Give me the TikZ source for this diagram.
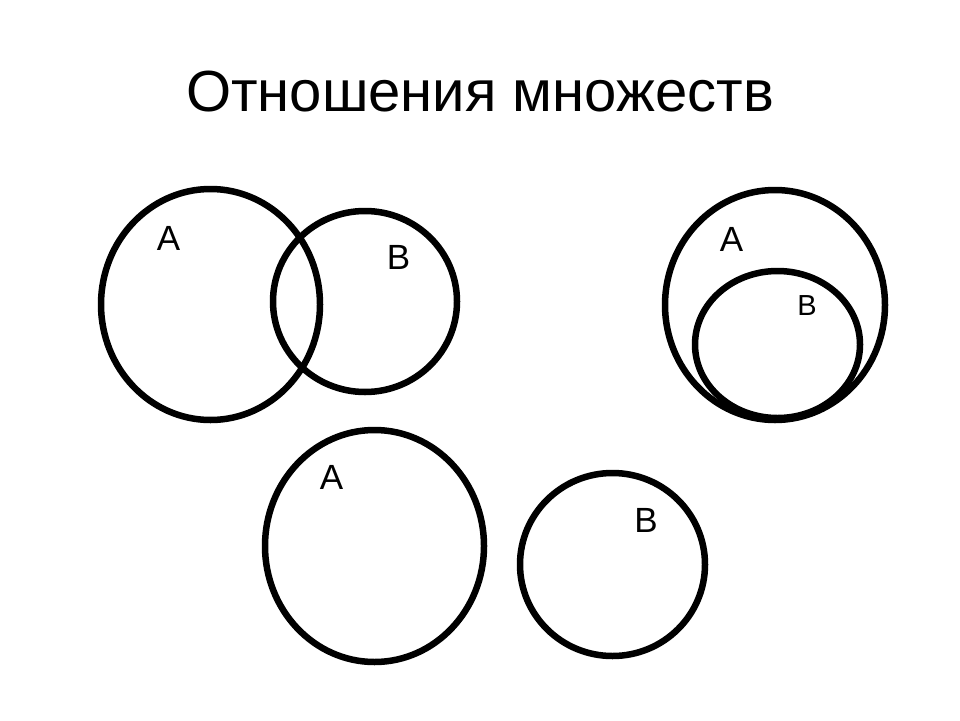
\documentclass[tikz,border=0pt]{standalone}
\usepackage{fontspec}
\setmainfont{Liberation Sans}
\usepackage{tikz}
\usetikzlibrary{shapes,positioning}
\tikzstyle{setring} = [ellipse, draw=black, line width=6.5pt, inner sep=0pt]
\tikzstyle{setlabel} = [font=\fontsize{35}{40}\selectfont, inner sep=0pt]

\begin{document}
\begin{tikzpicture}[x=1pt, y=-1pt]
    \useasboundingbox (0,0) rectangle (960,720);
    % Title
    \node[anchor=base, font=\fontsize{58}{64}\selectfont, inner sep=0pt] (title) at (480,111) {Отношения множеств};

    % Intersection
    \node[setring, minimum width=219pt, minimum height=231pt] (ringA1) at (210.5,304.5) {};
    \node[setring, minimum width=184pt, minimum height=181pt] (ringB1) at (365,301.5) {};
    \node[setlabel] (labA1) at (168.5,238) {A};
    \node[setlabel] (labB1) at (398.5,257.5) {B};

    % Subset
    \node[setring, minimum width=220pt, minimum height=230pt] (ringA2) at (775,305) {};
    \node[setring, minimum width=165pt, minimum height=147pt] (ringB2) at (777.5,344.5) {};
    \node[setlabel] (labA2) at (731.5,239.5) {A};
    \node[setlabel, font=\fontsize{29}{33}\selectfont] (labB2) at (807,306) {B};

    % Disjoint
    \node[setring, minimum width=219pt, minimum height=232pt] (ringA3) at (374.5,546) {};
    \node[setring, minimum width=185pt, minimum height=183pt] (ringB3) at (612.5,564.5) {};
    \node[setlabel] (labA3) at (331.5,477.5) {A};
    \node[setlabel] (labB3) at (646,520) {B};
\end{tikzpicture}
\end{document}
